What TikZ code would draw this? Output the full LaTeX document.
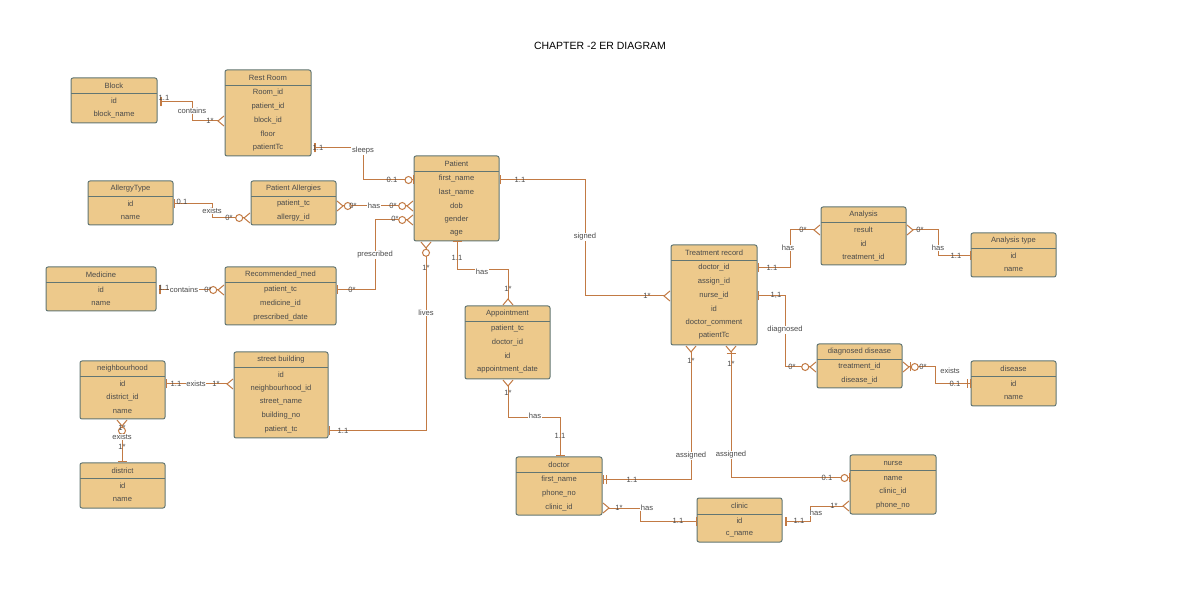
\documentclass[tikz,border=0pt]{standalone}
\usepackage{fontspec}
\setmainfont{Liberation Sans}
\usetikzlibrary{arrows.meta,fit}
\definecolor{boxfill}{HTML}{EDC98B}
\definecolor{boxline}{HTML}{627673}
\definecolor{conn}{HTML}{C27A44}
\definecolor{txt}{HTML}{4A4A4A}
\tikzset{
  crow/.tip={Straight Barb[reversed,length=6pt,width=10pt,line width=1pt]},
  one/.tip={Bar[width=9pt,line width=1pt]},
  ring/.tip={Circle[open,length=8pt,fill=white,line width=1pt]},
  entbox/.style={draw=boxline,fill=boxfill,line width=1pt,rounded corners=2pt,inner sep=0pt},
  etext/.style={text=txt,font=\fontsize{7.6}{9}\selectfont,inner sep=0pt},
  con/.style={draw=conn,line width=1pt},
  lab/.style={text=txt,font=\fontsize{7.6}{9}\selectfont,fill=white,inner sep=0.6pt},
  ml/.style={text=txt,font=\fontsize{7.6}{9}\selectfont,inner sep=0.4pt}
}
\newcommand\ent[7]{%
  \node[entbox,fit={(#2,#3)(#4,#5)}] (#1) {};
  \draw[boxline,line width=1pt] (#2,#3+16) -- (#4,#3+16);
  \node[etext] at ({(#2+#4)/2},{#3+8}) {#6};
  \foreach \r [count=\i from 0] in {#7}
    \node[etext] at ({(#2+#4)/2},{#3+23+13.6*\i}) {\r};
}
\begin{document}
\begin{tikzpicture}[x=1pt,y=-1pt]
\useasboundingbox[fill=white] (0,0) rectangle (1200,593);
\node[text=black,font=\fontsize{10.5}{12}\selectfont] (title) at (600,46) {CHAPTER -2 ER DIAGRAM};

\ent{block}{71}{78}{157}{123}{Block}{id,block\_name}
\ent{rest}{225}{70}{311}{156}{Rest Room}{Room\_id,patient\_id,block\_id,floor,patientTc}
\ent{patient}{414}{156}{499}{241}{Patient}{first\_name,last\_name,dob,gender,age}
\ent{allergy}{88}{181}{173}{225}{AllergyType}{id,name}
\ent{pallergy}{251}{181}{336}{225}{Patient Allergies}{patient\_tc,allergy\_id}
\ent{medicine}{46}{267}{156}{311}{Medicine}{id,name}
\ent{recmed}{225}{267}{336}{325}{Recommended\_med}{patient\_tc,medicine\_id,prescribed\_date}
\ent{appt}{465}{306}{550}{379}{Appointment}{patient\_tc,doctor\_id,id,appointment\_date}
\ent{treat}{671}{245}{757}{345}{Treatment record}{doctor\_id,assign\_id,nurse\_id,id,doctor\_comment,patientTc}
\ent{analysis}{821}{207}{906}{265}{Analysis}{result,id,treatment\_id}
\ent{atype}{971}{233}{1056}{277}{Analysis type}{id,name}
\ent{ddisease}{817}{344}{902}{388}{diagnosed disease}{treatment\_id,disease\_id}
\ent{disease}{971}{361}{1056}{406}{disease}{id,name}
\ent{neigh}{80}{361}{165}{419}{neighbourhood}{id,district\_id,name}
\ent{street}{234}{352}{328}{438}{street building}{id,neighbourhood\_id,street\_name,building\_no,patient\_tc}
\ent{district}{80}{463}{165}{508}{district}{id,name}
\ent{doctor}{516}{457}{602}{515}{doctor}{first\_name,phone\_no,clinic\_id}
\ent{clinic}{697}{498}{782}{542}{clinic}{id,c\_name}
\ent{nurse}{850}{455}{936}{514}{nurse}{name,clinic\_id,phone\_no}

% 1 block - rest room
\draw[con,{one[sep=2pt]one[]}-{crow[]}] (block.east|-0,102) -- (192,102) -- (192,121) -- (rest.west|-0,121);
\node[ml] at (164,98) {1.1}; \node[ml] at (210,121) {1*}; \node[lab] at (192,111) {contains};
% 2 rest - patient
\draw[con,{one[sep=2pt]one[]}-{ring[]one[]}] (rest.east|-0,148) -- (363,148) -- (363,180) -- (patient.west|-0,180);
\node[ml] at (318,148) {1.1}; \node[ml] at (392,180) {0.1}; \node[lab] at (363,151) {sleeps};
% 3 allergytype - patient allergies
\draw[con,{one[]}-{ring[]crow[]}] (allergy.east|-0,204) -- (212,204) -- (212,218) -- (pallergy.west|-0,218);
\node[ml] at (182,202) {0.1}; \node[ml] at (229,218) {0*}; \node[lab] at (212,211) {exists};
% 4 patient allergies - patient
\draw[con,{crow[]ring[]}-{ring[]crow[]}] (pallergy.east|-0,206) -- (patient.west|-0,206);
\node[ml] at (353,206) {0*}; \node[ml] at (393,206) {0*}; \node[lab] at (374,206) {has};
% 5 patient - recommended med
\draw[con,{crow[]ring[]}-{one[]}] (patient.west|-0,220) -- (375,220) -- (375,290) -- (recmed.east|-0,290);
\node[ml] at (395,219) {0*}; \node[ml] at (352,290) {0*}; \node[lab] at (375,255) {prescribed};
% 6 medicine - recommended med
\draw[con,{one[sep=2pt]one[]}-{ring[]crow[]}] (medicine.east|-0,290) -- (recmed.west|-0,290);
\node[ml] at (164,288) {1.1}; \node[ml] at (208,290) {0*}; \node[lab] at (184,290) {contains};
% 7 patient - street building
\draw[con,{crow[]ring[]}-{one[]}] (patient.south-|426,0) -- (426,431) -- (street.east|-0,431);
\node[ml] at (426,268) {1*}; \node[ml] at (343,431) {1.1}; \node[lab] at (426,313) {lives};
% 8 patient - appointment
\draw[con,{one[]}-{crow[]}] (patient.south-|457,0) -- (457,270) -- (508,270) -- (appt.north-|508,0);
\node[ml] at (457,258) {1.1}; \node[ml] at (508,289) {1*}; \node[lab] at (482,272) {has};
% 9 patient - treatment
\draw[con,{one[]}-{crow[]}] (patient.east|-0,180) -- (585,180) -- (585,296) -- (treat.west|-0,296);
\node[ml] at (520,180) {1.1}; \node[ml] at (647,296) {1*}; \node[lab] at (585,237) {signed};
% 10 appointment - doctor
\draw[con,{crow[]}-{one[]}] (appt.south-|508,0) -- (508,418) -- (560,418) -- (doctor.north-|560,0);
\node[ml] at (508,393) {1*}; \node[ml] at (560,436) {1.1}; \node[lab] at (535,416) {has};
% 11 treatment - doctor
\draw[con,{crow[]}-{one[sep=2pt]one[]}] (treat.south-|691,0) -- (691,480) -- (doctor.east|-0,480);
\node[ml] at (691,361) {1*}; \node[ml] at (632,480) {1.1}; \node[lab] at (691,456) {assigned};
% 12 treatment - nurse
\draw[con,{crow[]one[]}-{ring[]one[]}] (treat.south-|731,0) -- (731,478) -- (nurse.west|-0,478);
\node[ml] at (731,364) {1*}; \node[ml] at (827,478) {0.1}; \node[lab] at (731,455) {assigned};
% 13 doctor - clinic
\draw[con,{crow[]}-{one[]}] (doctor.east|-0,508) -- (640,508) -- (640,521) -- (clinic.west|-0,521);
\node[ml] at (619,508) {1*}; \node[ml] at (678,521) {1.1}; \node[lab] at (647,508) {has};
% 14 clinic - nurse
\draw[con,{one[sep=2pt]one[]}-{crow[]}] (clinic.east|-0,521) -- (810,521) -- (810,506) -- (nurse.west|-0,506);
\node[ml] at (799,521) {1.1}; \node[ml] at (834,506) {1*}; \node[lab] at (816,513) {has};
% 15 treatment - analysis
\draw[con,{one[]}-{crow[]}] (treat.east|-0,268) -- (790,268) -- (790,230) -- (analysis.west|-0,230);
\node[ml] at (772,268) {1.1}; \node[ml] at (803,230) {0*}; \node[lab] at (788,248) {has};
% 16 analysis - analysis type
\draw[con,{crow[]}-{one[]}] (analysis.east|-0,230) -- (938,230) -- (938,256) -- (atype.west|-0,256);
\node[ml] at (920,230) {0*}; \node[ml] at (956,256) {1.1}; \node[lab] at (938,248) {has};
% 17 treatment - diagnosed disease
\draw[con,{one[]}-{ring[]crow[]}] (treat.east|-0,296) -- (785,296) -- (785,367) -- (ddisease.west|-0,367);
\node[ml] at (776,295) {1,1}; \node[ml] at (792,367) {0*}; \node[lab] at (785,330) {diagnosed};
% 18 diagnosed disease - disease
\draw[con,{crow[]one[]ring[]}-{one[sep=2pt]one[]}] (ddisease.east|-0,367) -- (935,367) -- (935,384) -- (disease.west|-0,384);
\node[ml] at (923,367) {0*}; \node[ml] at (955,384) {0.1}; \node[lab] at (950,371) {exists};
% 19 neighbourhood - street building
\draw[con,{one[]}-{crow[]}] (neigh.east|-0,384) -- (street.west|-0,384);
\node[ml] at (176,384) {1.1}; \node[ml] at (216,384) {1*}; \node[lab] at (196,384) {exists};
% 20 neighbourhood - district
\draw[con,{crow[]ring[]}-{one[]}] (neigh.south-|122,0) -- (district.north-|122,0);
\node[ml] at (122,428) {1*}; \node[ml] at (122,447) {1*}; \node[lab] at (122,437) {exists};
\end{tikzpicture}
\end{document}
